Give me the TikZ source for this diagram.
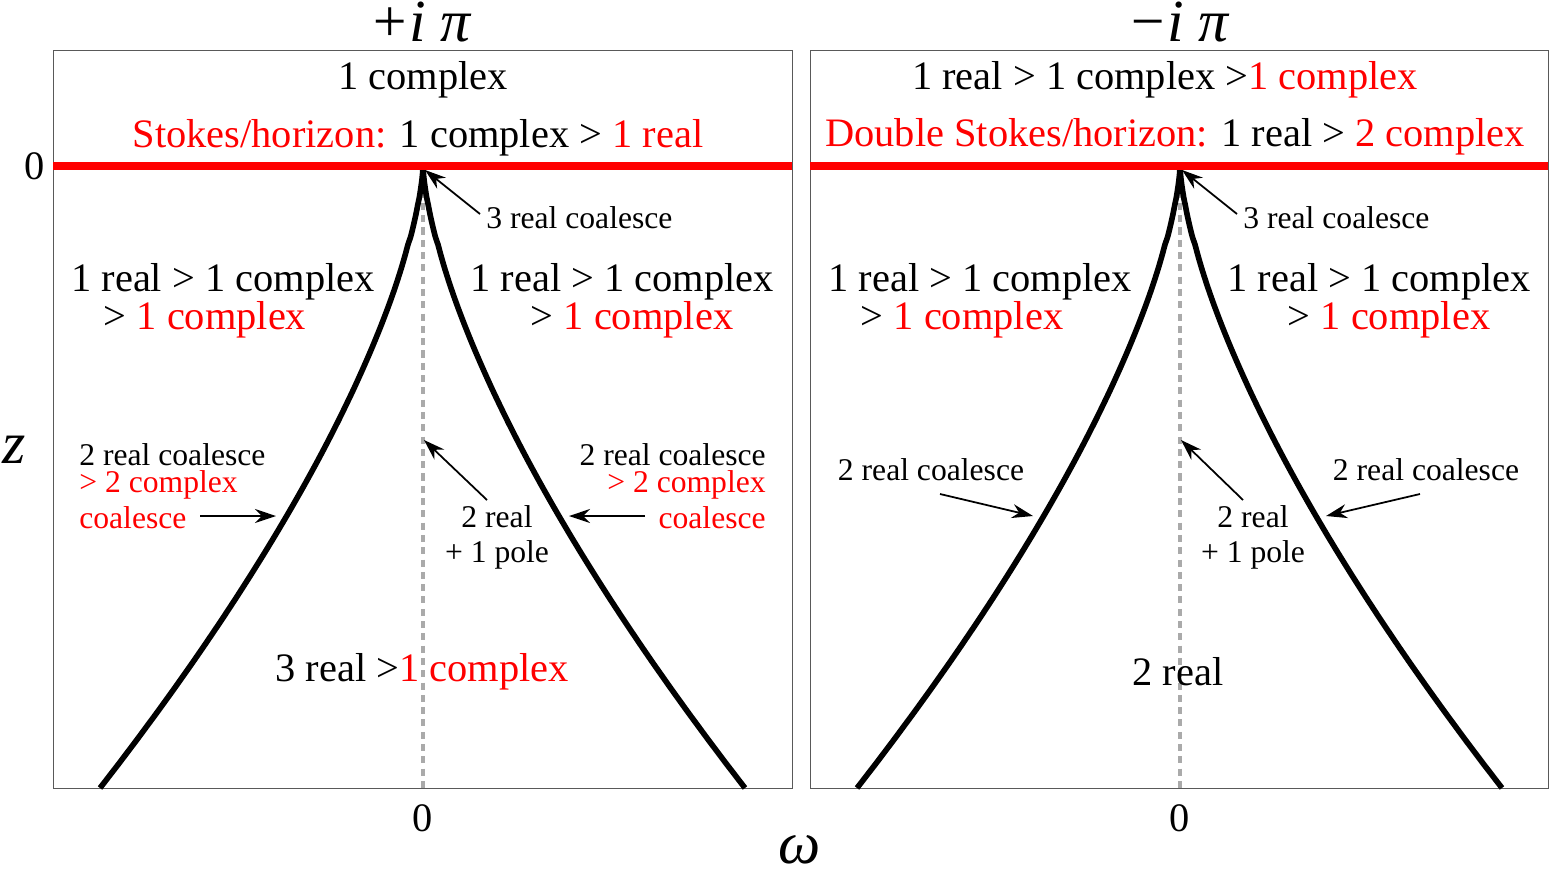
\documentclass[tikz,border=0pt]{standalone}
\usepackage{fontspec}
\setmainfont{Liberation Serif}
\usetikzlibrary{arrows.meta}
\begin{document}
\begin{tikzpicture}[x=0.02cm,y=-0.02cm,
  big/.style={font=\fontsize{23}{25}\selectfont,inner sep=0pt},
  sm/.style={font=\fontsize{18}{20}\selectfont,inner sep=0pt},
  ax/.style={font=\fontsize{34}{36}\selectfont\itshape,inner sep=0pt},
  curve/.style={line width=3.2pt,black},
  arr/.style={-{Stealth[length=12pt,width=8pt]},line width=1pt},
  redtxt/.style={text=red}]
\useasboundingbox (0,0) rectangle (1550,869);
\definecolor{gr}{RGB}{170,170,170}
% boxes
\draw[line width=0.5pt,gray!70!black] (53,50) rectangle (792,788);
\draw[line width=0.5pt,gray!70!black] (810,50) rectangle (1548,788);
% dashed
\draw[gr,dash pattern=on 4pt off 3pt,line width=2pt] (423,166) -- (423,788);
\draw[gr,dash pattern=on 4pt off 3pt,line width=2pt] (1180,166) -- (1180,788);
% curves
\foreach \c in {423,1180}{
 \draw[curve] plot[domain=0:622,samples=80,smooth] ({\c-323*(\x/622)^1.5},{166+\x});
 \draw[curve] plot[domain=0:622,samples=80,smooth] ({\c+322*(\x/622)^1.5},{166+\x});
}
% red lines
\draw[red,line width=4.5pt] (53,166) -- (792,166);
\draw[red,line width=4.5pt] (810,166) -- (1548,166);
% axis labels
\node[ax] (tl) at (420,22) {+i π};
\node[ax] (tr) at (1178,22) {−i π};
\node[ax] (zl) at (14,450) {z};
\node[ax] (wl) at (800,850) {ω};
\node[big] (z0) at (35,166) {0};
\node[big] (x0a) at (423,818) {0};
\node[big] (x0b) at (1180,818) {0};
% top texts
\node[big] (t1) at (423,80) {1 complex};
\node[big] (t2) at (418,138) {\textcolor{red}{Stokes/horizon:} 1 complex > \textcolor{red}{1 real}};
\node[big] (t3) at (1165,80) {1 real > 1 complex >\textcolor{red}{1 complex}};
\node[big] (t4) at (1175,137) {\textcolor{red}{Double Stokes/horizon:} 1 real > \textcolor{red}{2 complex}};
% region texts
\foreach \p/\q in {223/205,622/632,980/962,1379/1389}{
 \node[big] at (\p,282) {1 real > 1 complex};
 \node[big] at (\q,320) {> \textcolor{red}{1 complex}};
}
\node[big] (b1) at (422,672) {3 real >\textcolor{red}{1 complex}};
\node[big] (b2) at (1178,672) {2 real};
% 3 real coalesce
\node[sm,anchor=west] (c3a) at (486,218) {3 real coalesce};
\node[sm,anchor=west] (c3b) at (1243,218) {3 real coalesce};
\coordinate (k1) at (425,170); \coordinate (k2) at (1182,170);
\draw[arr] (c3a.west) ++(-6,-4) -- (k1);
\draw[arr] (c3b.west) ++(-6,-4) -- (k2);
% 2 real + 1 pole
\node[sm] (p1a) at (497,517) {2 real};
\node[sm] (p1b) at (497,555) {+ 1 pole};
\node[sm] (p2a) at (1253,517) {2 real};
\node[sm] (p2b) at (1253,555) {+ 1 pole};
\coordinate (q1) at (424,440); \coordinate (q2) at (1181,440);
\draw[arr] (487,500) -- (q1);
\draw[arr] (1243,500) -- (q2);
% left panel side labels
\node[sm,anchor=west] (l1) at (79,455) {2 real coalesce};
\node[sm,anchor=west,redtxt] (l2) at (79,485) {> 2 complex};
\node[sm,anchor=west,redtxt] (l3) at (79,518) {coalesce};
\coordinate (la) at (276,516);
\draw[arr] (200,516) -- (la);
\node[sm,anchor=east] (r1) at (766,455) {2 real coalesce};
\node[sm,anchor=east,redtxt] (r2) at (766,485) {> 2 complex};
\node[sm,anchor=east,redtxt] (r3) at (766,518) {coalesce};
\coordinate (ra) at (569,516);
\draw[arr] (645,516) -- (ra);
% right panel side labels
\node[sm] (m1) at (931,470) {2 real coalesce};
\node[sm] (m2) at (1426,470) {2 real coalesce};
\coordinate (ma) at (1033,516); \coordinate (mb) at (1326,516);
\draw[arr] (940,494) -- (ma);
\draw[arr] (1420,494) -- (mb);
\end{tikzpicture}
\end{document}
